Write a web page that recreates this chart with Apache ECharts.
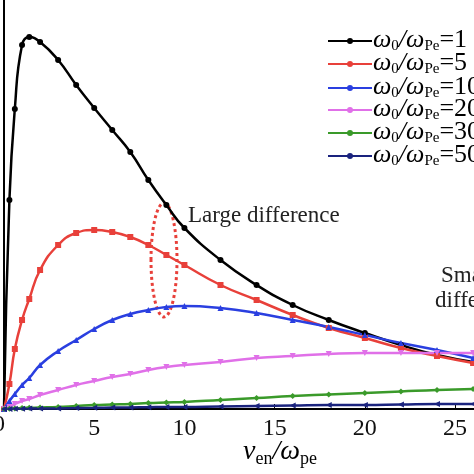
<!DOCTYPE html><html><head><meta charset="utf-8"><script src="https://cdn.jsdelivr.net/npm/echarts@6/dist/echarts.min.js"></script></head><body style="margin:0"><div id="c" style="width:474px;height:474px"></div><script>
const xs=[0,0.3,0.6,1,1.4,2,3,4,5,6,7,8,9,10,12,14,16,18,20,22,24,26];
const black=[0,209,300,364,372,367,349,324,301,279,257,229,204,181,149,124,104,89,76,64,54,47];
const red=[0,25,60,89,110,139,164,176,179,177,172,164,154,144,124,109,94,81,71,61,53,46];
const blue=[0,8,15,24,31,44,58,69,80,89,95,99,102,103,101,96,89,82,74,66,59,51];
const pink=[0,2,5,8,10,14,19,24,28,32,35,39,42,44,47,51,53,55,56,56,56,56];
const green=[0,0.3,0.6,1,1.2,1.5,2,3,4,4.5,5,6,6.5,7,9,11,13,14.5,16,17.5,19,20];
const navy=[0,0.1,0.2,0.3,0.4,0.5,0.6,1,1.2,1.4,1.6,1.8,2,2,2.5,3,3.5,4,4,4.5,5,5];
const names=['1','5','10','20','30','50'];
const cols=['#000','#e8403a','#2a3fe0','#e070e8','#3a9a2a','#1a237e'];
const syms=['circle','rect','triangle','path://M0,0L10,0L5,9Z','diamond','path://M0,5L10,0L10,10Z'];
const data=[black,red,blue,pink,green,navy];
const ch=echarts.init(document.getElementById('c'));
const ser=data.map((d,i)=>({type:'line',data:xs.map((x,j)=>[x,d[j]]),smooth:true,symbol:syms[i],symbolSize:6,
 lineStyle:{color:cols[i],width:2.5},itemStyle:{color:cols[i]}}));
const g=[];
const rows=[41,64,88,110,133,156];
rows.forEach((y,i)=>{
 g.push({type:'line',shape:{x1:328,y1:y,x2:372,y2:y},style:{stroke:cols[i],lineWidth:2}});
 g.push({type:'circle',shape:{cx:350,cy:y,r:3},style:{fill:cols[i]}});
 g.push({type:'text',x:373,y:y-15,style:{text:'{i|ω}{s|0}{i|/ω}{s|Pe}{n|='+names[i]+'}',rich:{
  i:{fontFamily:'Liberation Serif',fontStyle:'italic',fontSize:26},
  s:{fontFamily:'Liberation Serif',fontSize:15,padding:[13,0,0,0]},
  n:{fontFamily:'Liberation Serif',fontSize:26}}}});
});
g.push({type:'text',x:188,y:204,style:{text:'Large difference',font:'23px "Liberation Serif"',fill:'#222'}});
g.push({type:'text',x:441,y:264,style:{text:'Small',font:'23px "Liberation Serif"',fill:'#222'}});
g.push({type:'text',x:435,y:289,style:{text:'difference',font:'23px "Liberation Serif"',fill:'#222'}});
g.push({type:'ellipse',shape:{cx:164,cy:260,rx:13,ry:57},style:{fill:'none',stroke:'#e8403a',lineWidth:3,lineDash:[3,3]}});
g.push({type:'text',x:-7,y:413,style:{text:'0',font:'24px "Liberation Serif"',fill:'#111'}});
g.push({type:'text',x:243,y:436,style:{text:'{i|ν}{s|en}{i|/ω}{s|pe}',rich:{
  i:{fontFamily:'Liberation Serif',fontStyle:'italic',fontSize:28},
  s:{fontFamily:'Liberation Serif',fontSize:18,padding:[14,0,0,0]}}}});
ch.setOption({animation:false,
 grid:{left:4,right:0,top:0,bottom:65},
 xAxis:{type:'value',min:0,max:26.05,interval:5,axisLine:{lineStyle:{color:'#000',width:2}},axisTick:{inside:true,length:5,lineStyle:{color:'#000'}},
  splitLine:{show:false},axisLabel:{fontFamily:'Liberation Serif',fontSize:24,color:'#111',margin:8,formatter:v=>v===0?'':v}},
 yAxis:{type:'value',min:0,max:409,axisLine:{show:true,lineStyle:{color:'#000',width:2}},axisTick:{show:false},axisLabel:{show:false},splitLine:{show:false}},
 series:ser,graphic:g});
</script></body></html>
